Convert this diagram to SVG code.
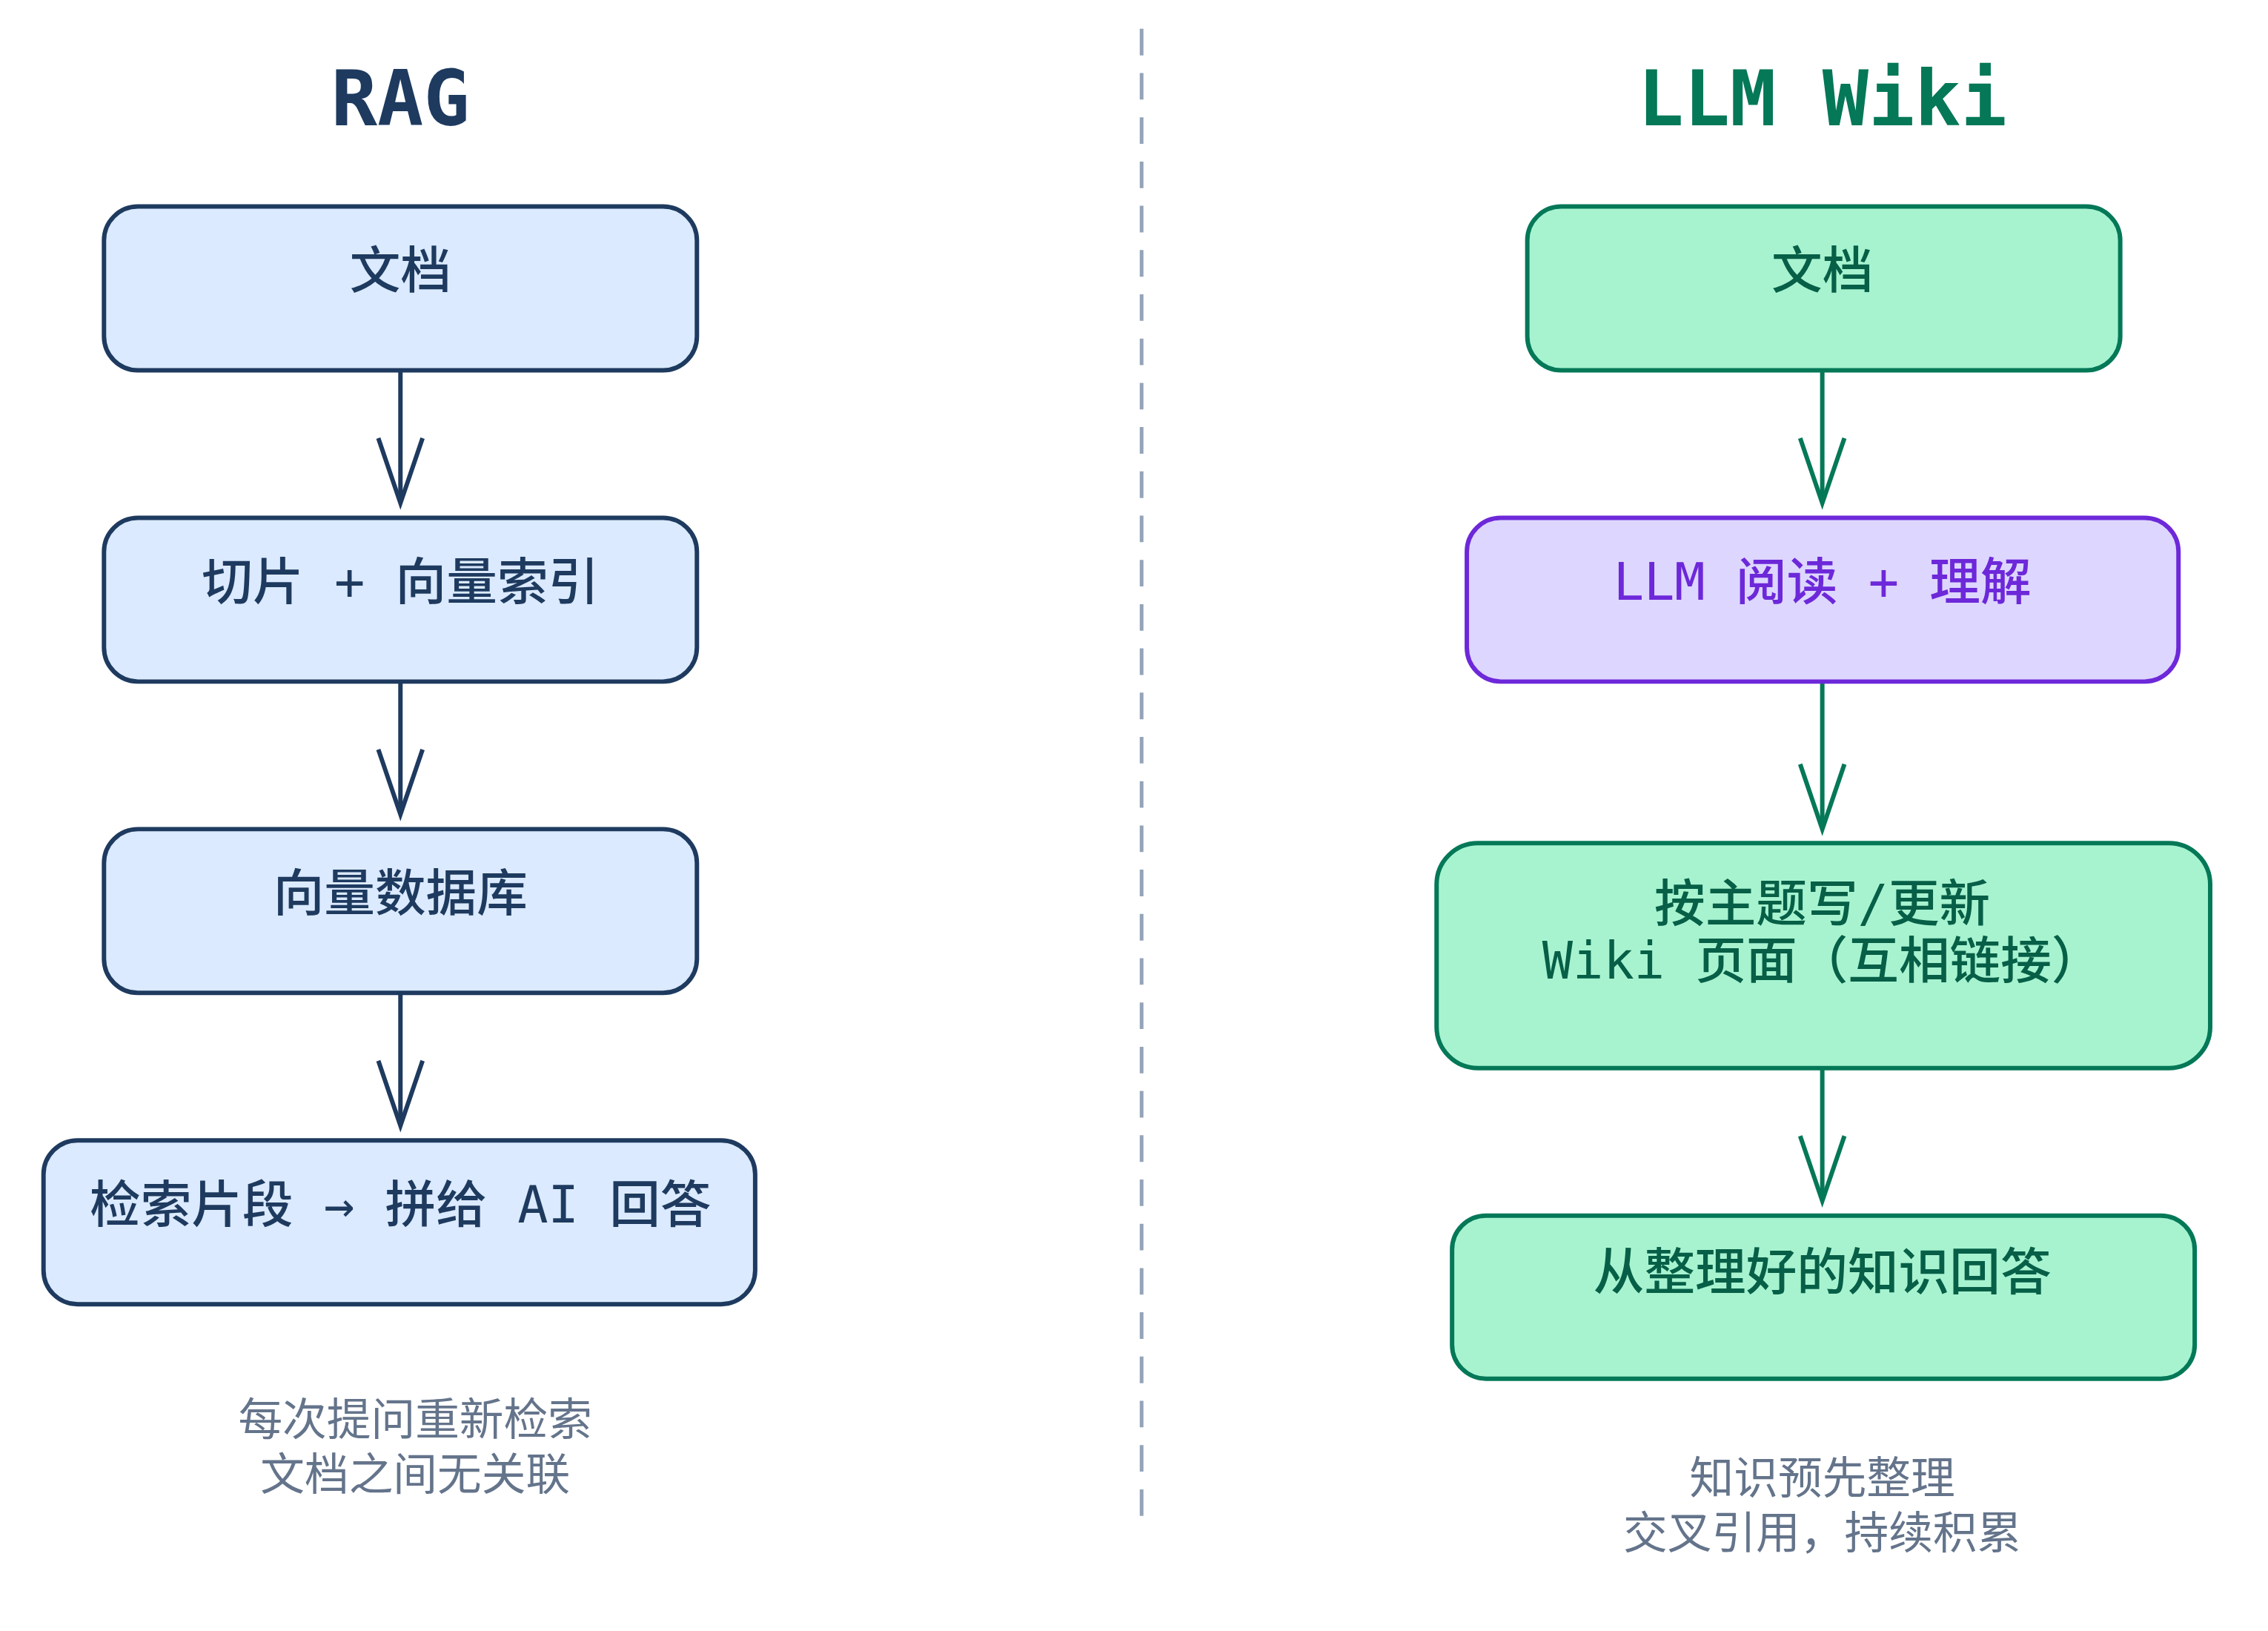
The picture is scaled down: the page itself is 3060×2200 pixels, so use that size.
<svg xmlns="http://www.w3.org/2000/svg" width="3060" height="2200" viewBox="0 0 3060 2200">
<style>
text{font-family:"DejaVu Sans Mono","Noto Sans CJK SC",monospace;text-anchor:middle;font-size:69px;font-weight:500}
.title{font-size:104px;font-weight:bold}
.lb{fill:#dbeafe;stroke:#1e3a5f;stroke-width:6}
.gb{fill:#a7f3d0;stroke:#047857;stroke-width:6}
.lt{fill:#1e3a5f}
.gt{fill:#065f46}
.note{fill:#64748b;font-family:"Noto Sans CJK SC",sans-serif;font-size:60px;font-weight:normal}
.lc{stroke:#1e3a5f;stroke-width:6;fill:none}
.gc{stroke:#047857;stroke-width:6;fill:none}
</style>
<rect width="3060" height="2200" fill="#fff"/>
<g transform="scale(0.995)">
<line x1="1548" y1="39" x2="1548" y2="2056" stroke="#94a3b8" stroke-width="5" stroke-dasharray="36,24"/>
<text class="title lt" x="543" y="170">RAG</text>
<text class="title" x="2471" y="170" fill="#047857">LLM Wiki</text>
<g id="connectors">
<g class="lc">
<line x1="543" y1="502" x2="543" y2="680"/><path d="M513,594 L543,682 L573,594"/>
<line x1="543" y1="924" x2="543" y2="1102"/><path d="M513,1016 L543,1104 L573,1016"/>
<line x1="543" y1="1346" x2="543" y2="1524"/><path d="M513,1438 L543,1526 L573,1438"/>
</g>
<g class="gc">
<line x1="2471" y1="502" x2="2471" y2="680"/><path d="M2441,594 L2471,682 L2501,594"/>
<line x1="2471" y1="924" x2="2471" y2="1122"/><path d="M2441,1036 L2471,1124 L2501,1036"/>
<line x1="2471" y1="1448" x2="2471" y2="1626"/><path d="M2441,1540 L2471,1628 L2501,1540"/>
</g>
</g>
<g id="l1"><rect class="lb" x="141" y="280" width="804" height="222" rx="46"/><text class="lt" x="543" y="391">文档</text></g>
<g id="l2"><rect class="lb" x="141" y="702" width="804" height="222" rx="46"/><text class="lt" x="543" y="813">切片 + 向量索引</text></g>
<g id="l3"><rect class="lb" x="141" y="1124" width="804" height="222" rx="46"/><text class="lt" x="543" y="1235">向量数据库</text></g>
<g id="l4"><rect class="lb" x="59" y="1546" width="965" height="222" rx="46"/><text class="lt" x="543" y="1657">检索片段 → 拼给 AI 回答</text></g>
<g id="r1"><rect class="gb" x="2071" y="280" width="804" height="222" rx="46"/><text class="gt" x="2471" y="391">文档</text></g>
<g id="r2"><rect x="1989" y="702" width="965" height="222" rx="46" fill="#ddd6fe" stroke="#6d28d9" stroke-width="6"/><text x="2471" y="813" fill="#6d28d9">LLM 阅读 + 理解</text></g>
<g id="r3"><rect class="gb" x="1948" y="1143" width="1049" height="305" rx="56" stroke-width="10"/><text class="gt" x="2471" y="1249">按主题写/更新</text><text class="gt" x="2471" y="1327">Wiki 页面（互相链接）</text></g>
<g id="r4"><rect class="gb" x="1969" y="1648" width="1007" height="221" rx="46"/><text class="gt" x="2471" y="1749">从整理好的知识回答</text></g>
<text class="note" x="563" y="1946">每次提问重新检索</text>
<text class="note" x="563" y="2020">文档之间无关联</text>
<text class="note" x="2471" y="2025">知识预先整理</text>
<text class="note" x="2471" y="2099">交叉引用，持续积累</text>
</g>
</svg>
